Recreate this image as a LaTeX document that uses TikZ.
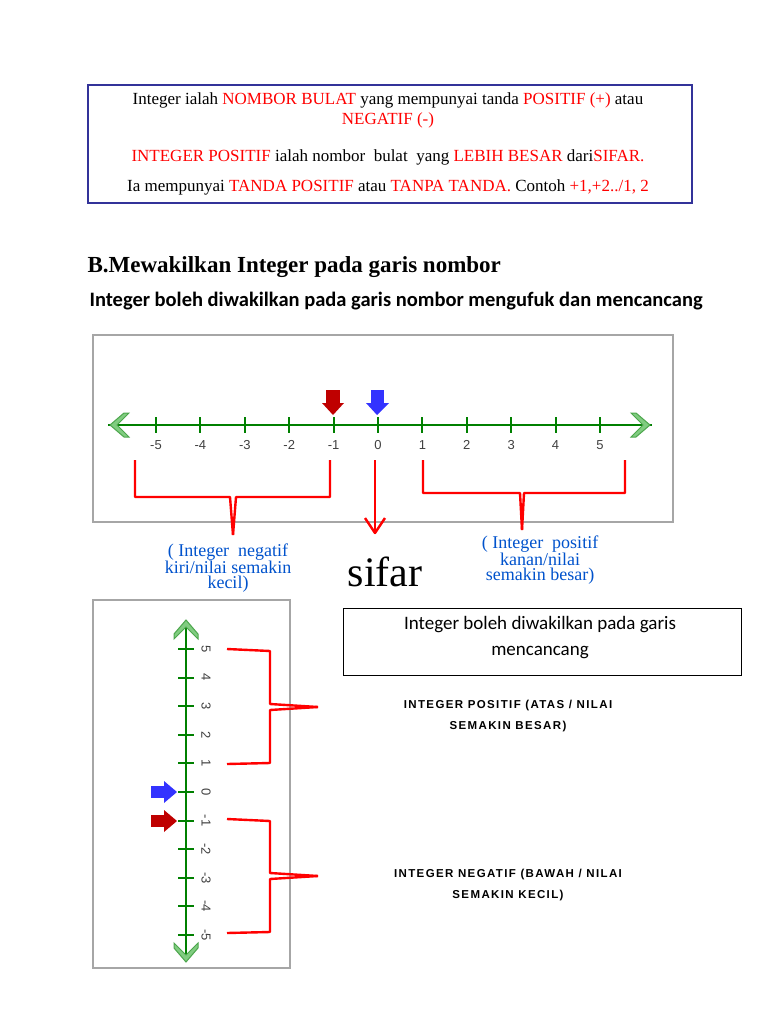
\documentclass[tikz,border=0pt]{standalone}
\usepackage{fontspec}
\setmainfont{Liberation Serif}
\newfontfamily\carfont{Carlito}
\newfontfamily\ari{Liberation Sans}
\newfontfamily\aris[LetterSpace=12]{Liberation Sans}
\begin{document}
\begin{tikzpicture}[x=1pt,y=-1pt,
  grn/.style={draw=green!50!black,line width=2.2pt},
  tk/.style={draw=green!50!black,line width=2pt},
  br/.style={draw=red,line width=2.4pt,line join=round},
  frm/.style={draw=gray!70,line width=1.5pt},
  num/.style={font=\ari\fontsize{13}{13}\selectfont,text=black!75},
  blu/.style={text=blue!60!cyan!80!black,font=\fontsize{18}{15}\selectfont,align=center},
  capt/.style={font=\aris\bfseries\fontsize{11.5}{21}\selectfont,align=center},
  tt/.style={font=\fontsize{17}{14}\selectfont}]
\useasboundingbox (0,0) rectangle (768,1024);
% top box
\draw[draw=blue!50!black!80,line width=1.5pt] (88,85) rectangle (692,203);
\node[tt] (t1) at (388,100) {Integer ialah \textcolor{red}{NOMBOR BULAT} yang mempunyai tanda \textcolor{red}{POSITIF (+)} atau};
\node[tt,text=red] (t2) at (388,120) {NEGATIF (-)};
\node[tt] (t3) at (388,157) {\textcolor{red}{INTEGER POSITIF} ialah nombor\ \ bulat\ \ yang \textcolor{red}{LEBIH BESAR} dari\textcolor{red}{SIFAR.}};
\node[tt] (t4) at (388,187) {Ia mempunyai \textcolor{red}{TANDA POSITIF} atau \textcolor{red}{TANPA TANDA.} Contoh \textcolor{red}{+1,+2../1, 2}};
\node[anchor=west,font=\bfseries\fontsize{23}{23}\selectfont] (h) at (84,267) {B.Mewakilkan Integer pada garis nombor};
\node[anchor=west,font=\carfont\bfseries\fontsize{20.5}{20}\selectfont] (h2) at (86,301) {Integer boleh diwakilkan pada garis nombor mengufuk dan mencancang};
% horizontal line
\draw[frm] (93,335) rectangle (673,522);
\coordinate (hl) at (108,425); \coordinate (hr) at (652,425);
\draw[grn] (hl) -- (hr);
\draw[green!50!black!70,fill=green!60!black!50,line width=1pt] (124,413)--(110,425)--(124,437)--(129,437)--(117,425)--(129,413)--cycle;
\draw[green!50!black!70,fill=green!60!black!50,line width=1pt] (636,413)--(650,425)--(636,437)--(631,437)--(643,425)--(631,413)--cycle;
\foreach \i in {-5,...,5}{
  \pgfmathsetmacro\xx{378+44.4*\i}
  \draw[tk] (\xx,417)--(\xx,433);
  \node[num] (hn\i) at (\xx,445) {\i};
}
\fill[red!75!black] (326,390) rectangle (340,403); \fill[red!75!black] (322,403)--(344,403)--(333,415)--cycle;
\fill[blue!80] (371,390) rectangle (384,403); \fill[blue!80] (366,403)--(389,403)--(377,415)--cycle;
\draw[br] (135,460)--(135,497)--(230,497)--(233,535); \draw[br] (233,535)--(236,497)--(330,497)--(330,460);
\draw[br] (423,460)--(423,493)--(520,493)--(522,530); \draw[br] (522,530)--(524,493)--(625,493)--(625,460);
\draw[br] (375,460)--(375,533); \draw[br] (365,518)--(375,533)--(385,518);
\node[blu] (ln) at (228,568) {( Integer\ \ negatif\\kiri/nilai semakin\\kecil)};
\node[font=\fontsize{42}{40}\selectfont] (sf) at (385,572) {sifar};
\node[blu] (lp) at (540,560) {( Integer\ \ positif\\kanan/nilai\\semakin besar)};
% vertical
\draw[frm] (93,600) rectangle (290,968);
\draw[grn] (186,620)--(186,962);
\draw[green!50!black!70,fill=green!60!black!50,line width=1pt] (174,634)--(186,620)--(198,634)--(198,639)--(186,627)--(174,639)--cycle;
\draw[green!50!black!70,fill=green!60!black!50,line width=1pt] (174,948)--(186,962)--(198,948)--(198,943)--(186,955)--(174,943)--cycle;
\foreach \i in {-5,...,5}{
  \pgfmathsetmacro\yy{792-28.6*\i}
  \draw[tk] (178,\yy)--(194,\yy);
  \node[num,rotate=-90] (vn\i) at (206,\yy) {\i};
}
\fill[blue!80] (151,786) rectangle (164,798); \fill[blue!80] (164,781)--(164,803)--(177,792)--cycle;
\fill[red!75!black] (151,815) rectangle (164,827); \fill[red!75!black] (164,810)--(164,832)--(177,821)--cycle;
\draw[br] (227,649)--(270,651)--(270,704)--(318,707); \draw[br] (318,707)--(270,710)--(270,763)--(227,764);
\draw[br] (227,819)--(270,821)--(270,873)--(318,876); \draw[br] (318,876)--(270,879)--(270,932)--(227,933);
\draw[line width=0.8pt] (343,608) rectangle (741,675);
\node[font=\carfont\fontsize{19}{26}\selectfont,align=center] (bx) at (540,638) {Integer boleh diwakilkan pada garis\\mencancang};
\node[capt] (cp) at (508,716) {INTEGER POSITIF (ATAS / NILAI\\SEMAKIN BESAR)};
\node[capt] (cn) at (508,885) {INTEGER NEGATIF (BAWAH / NILAI\\SEMAKIN KECIL)};
\end{tikzpicture}
\end{document}
